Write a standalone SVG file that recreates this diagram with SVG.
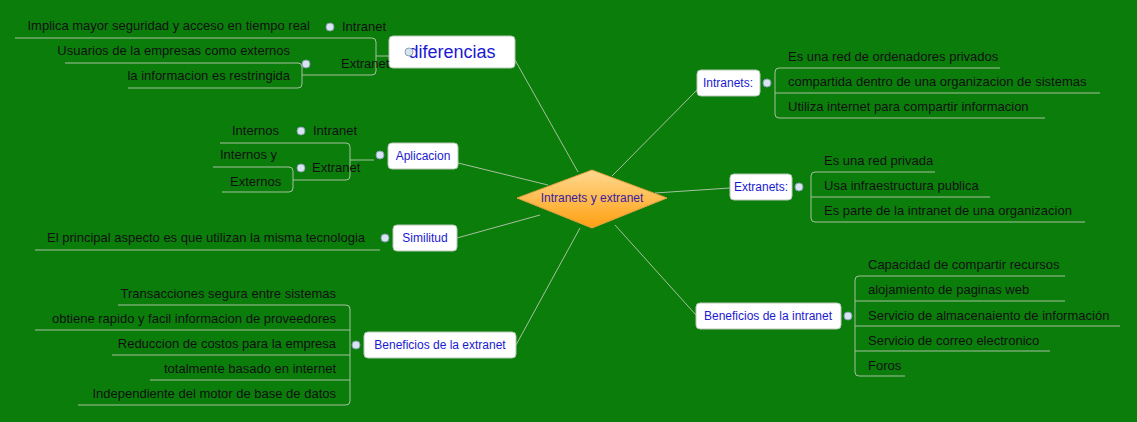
<svg xmlns="http://www.w3.org/2000/svg" width="1137" height="422" viewBox="0 0 1137 422">
<defs>
<style>
.l{fill:none;stroke:#a8c0a0;stroke-width:1}
.t{font-family:"Liberation Sans",Arial,sans-serif;font-size:13px;fill:#111}
.n{fill:#fff;stroke:#b8c8b8;stroke-width:1}
.nt{font-family:"Liberation Sans",Arial,sans-serif;font-size:12px;fill:#1a1ad0;text-anchor:middle}
.c{fill:#d8e4f0;stroke:#8aa0b8;stroke-width:1}
</style>
<linearGradient id="g" x1="0" y1="0" x2="0" y2="1"><stop offset="0" stop-color="#ffd890"/><stop offset="1" stop-color="#ffa010"/></linearGradient>
</defs>
<rect width="1137" height="422" fill="#0b7d0b"/>
<g id="connectors">
<path class="l" d="M515,60 L578,172 M458,163 L548,185 M457,238 L540,215 M516,345 L580,228 M697,90 L612,176 M730,188 L655,193 M696,315 L615,225"/>
<path class="l" d="M15,38 H372 Q376,38 376,42 V71 Q376,75 372,75 H302 M376,56 H403"/>
<path class="l" d="M65,63 H298 Q302,63 302,67 V84 Q302,88 298,88 H128"/>
<path class="l" d="M220,143 H346 Q350,143 350,147 V176 Q350,180 346,180 H293 M350,160 H374"/>
<path class="l" d="M213,167 H289 Q293,167 293,171 V188 Q293,192 289,192 H222"/>
<path class="l" d="M35,250 H380"/>
<path class="l" d="M118,305 H346 Q350,305 350,309 V401 Q350,405 346,405 H78 M35,330 H350 M112,355 H350 M150,380 H350"/>
<path class="l" d="M1000,68 H779 Q775,68 775,72 V114 Q775,118 779,118 H1045 M775,93 H1100"/>
<path class="l" d="M935,172 H815 Q811,172 811,176 V218 Q811,222 815,222 H1085 M811,197 H990"/>
<path class="l" d="M1065,276 H859 Q855,276 855,280 V372 Q855,376 859,376 H905 M855,301 H1065 M855,326 H1120 M855,351 H1050"/>
</g>
<g id="center">
<polygon points="517,198 592,170 667,198 592,228" fill="url(#g)" stroke="#e0a040"/>
<text x="592" y="202" class="nt" style="fill:#3a20a0">Intranets y extranet</text>
</g>
<g id="diferencias">
<rect class="n" x="389" y="36" width="126" height="32" rx="4"/>
<text x="452" y="58" class="nt" style="font-size:18px">diferencias</text>
<circle class="c" cx="409" cy="52" r="4"/>
<circle class="c" cx="330" cy="27" r="4"/><text x="342" y="31" class="t">Intranet</text>
<circle class="c" cx="306" cy="64" r="4"/><text x="341" y="68" class="t">Extranet</text>
<text x="310" y="30" class="t" text-anchor="end">Implica mayor seguridad y acceso en tiempo real</text>
<text x="290" y="55" class="t" text-anchor="end">Usuarios de la empresas como externos</text>
<text x="290" y="80" class="t" text-anchor="end">la informacion es restringida</text>
</g>
<g id="aplicacion">
<rect class="n" x="388" y="143" width="70" height="26" rx="4"/>
<text x="423" y="160" class="nt">Aplicacion</text>
<circle class="c" cx="380" cy="155" r="4"/>
<circle class="c" cx="301" cy="131" r="4"/><text x="313" y="135" class="t">Intranet</text>
<circle class="c" cx="301" cy="168" r="4"/><text x="312" y="172" class="t">Extranet</text>
<text x="232" y="135" class="t">Internos</text>
<text x="220" y="159" class="t">Internos y</text>
<text x="230" y="186" class="t">Externos</text>
</g>
<g id="similitud">
<rect class="n" x="393" y="225" width="64" height="26" rx="4"/>
<text x="425" y="242" class="nt">Similitud</text>
<circle class="c" cx="385" cy="238" r="4"/>
<text x="365" y="242" class="t" text-anchor="end">El principal aspecto es que utilizan la misma tecnologia</text>
</g>
<g id="beneficios-extranet">
<rect class="n" x="364" y="332" width="152" height="26" rx="4"/>
<text x="440" y="349" class="nt">Beneficios de la extranet</text>
<circle class="c" cx="356" cy="345" r="4"/>
<text x="336" y="298" class="t" text-anchor="end">Transacciones segura entre sistemas</text>
<text x="336" y="323" class="t" text-anchor="end">obtiene rapido y facil informacion de proveedores</text>
<text x="336" y="348" class="t" text-anchor="end">Reduccion de costos para la empresa</text>
<text x="336" y="373" class="t" text-anchor="end">totalmente basado en internet</text>
<text x="336" y="398" class="t" text-anchor="end">Independiente del motor de base de datos</text>
</g>
<g id="intranets">
<rect class="n" x="697" y="70" width="63" height="26" rx="4"/>
<text x="728" y="87" class="nt">Intranets:</text>
<circle class="c" cx="767" cy="83" r="4"/>
<text x="788" y="61" class="t">Es una red de ordenadores privados</text>
<text x="788" y="86" class="t">compartida dentro de una organizacion de sistemas</text>
<text x="788" y="111" class="t">Utiliza internet para compartir informacion</text>
</g>
<g id="extranets">
<rect class="n" x="730" y="174" width="62" height="26" rx="4"/>
<text x="761" y="191" class="nt">Extranets:</text>
<circle class="c" cx="799" cy="187" r="4"/>
<text x="824" y="165" class="t">Es una red privada</text>
<text x="824" y="190" class="t">Usa infraestructura publica</text>
<text x="824" y="215" class="t">Es parte de la intranet de una organizacion</text>
</g>
<g id="beneficios-intranet">
<rect class="n" x="696" y="303" width="145" height="26" rx="4"/>
<text x="768" y="320" class="nt">Beneficios de la intranet</text>
<circle class="c" cx="848" cy="316" r="4"/>
<text x="868" y="269" class="t">Capacidad de compartir recursos</text>
<text x="868" y="294" class="t">alojamiento de paginas web</text>
<text x="868" y="320" class="t">Servicio de almacenaiento de información</text>
<text x="868" y="345" class="t">Servicio de correo electronico</text>
<text x="868" y="370" class="t">Foros</text>
</g>
</svg>
